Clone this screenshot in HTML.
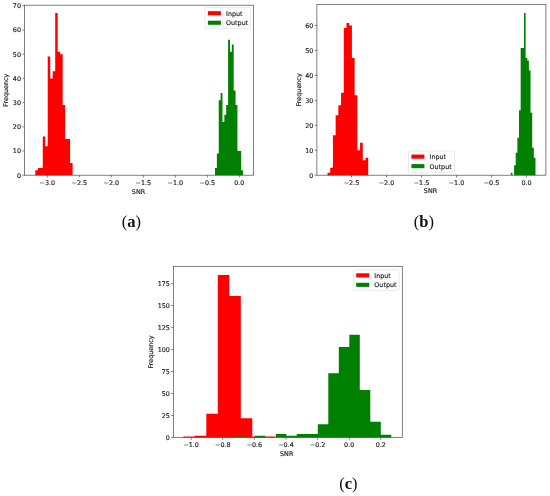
<!DOCTYPE html>
<html><head><meta charset="utf-8"><title>SNR histograms</title>
<style>
html,body{margin:0;padding:0;background:#fff;}
body{width:550px;height:496px;overflow:hidden;position:relative;}
svg{position:absolute;left:0;top:0;display:block;filter:blur(0.3px);}
.t{font-family:"DejaVu Sans","Liberation Sans",sans-serif;font-size:6.4px;fill:#1a1a1a;stroke:#1a1a1a;stroke-width:0.15px;}
.cap{position:absolute;font-family:"Liberation Serif","DejaVu Serif",serif;font-size:16.5px;color:#111;line-height:1;white-space:nowrap;transform:translateX(-50%);}
.cap b{font-weight:bold;}
</style></head><body>
<svg width="550" height="496" viewBox="0 0 550 496">
<rect width="550" height="496" fill="#fff"/>
<g id="pa">
<path d="M35.3 175.2V170.36H37.79V167.94H40.27V167.94H42.76V136.48H45.25V146.16H47.73V56.62H50.22V78.4H52.71V71.14H55.2V13.06H57.68V51.78H60.17V54.2H62.66V105.02H65.14V138.9H67.63V138.9H70.12V163.1H72.6V175.2Z" fill="#ff0000"/>
<path d="M215 175.2V167.94H216.87V153.42H218.74V100.18H220.61V92.92H222.48V121.96H224.35V114.7H226.22V105.02H228.09V39.68H229.96V51.78H231.83V44.52H233.7V90.5H235.57V105.02H237.44V151H239.31V151H241.18V170.36H243.05V175.2Z" fill="#008000"/>
<rect x="24.6" y="5.2" width="228.8" height="170" fill="none" stroke="#4a4a4a" stroke-width="0.7"/>
<line x1="47.3" y1="175.2" x2="47.3" y2="177.5" stroke="#4a4a4a" stroke-width="0.7"/>
<text x="47.3" y="184.8" text-anchor="middle" class="t">−3.0</text>
<line x1="79.3" y1="175.2" x2="79.3" y2="177.5" stroke="#4a4a4a" stroke-width="0.7"/>
<text x="79.3" y="184.8" text-anchor="middle" class="t">−2.5</text>
<line x1="111.3" y1="175.2" x2="111.3" y2="177.5" stroke="#4a4a4a" stroke-width="0.7"/>
<text x="111.3" y="184.8" text-anchor="middle" class="t">−2.0</text>
<line x1="143.3" y1="175.2" x2="143.3" y2="177.5" stroke="#4a4a4a" stroke-width="0.7"/>
<text x="143.3" y="184.8" text-anchor="middle" class="t">−1.5</text>
<line x1="175.3" y1="175.2" x2="175.3" y2="177.5" stroke="#4a4a4a" stroke-width="0.7"/>
<text x="175.3" y="184.8" text-anchor="middle" class="t">−1.0</text>
<line x1="207.3" y1="175.2" x2="207.3" y2="177.5" stroke="#4a4a4a" stroke-width="0.7"/>
<text x="207.3" y="184.8" text-anchor="middle" class="t">−0.5</text>
<line x1="239.3" y1="175.2" x2="239.3" y2="177.5" stroke="#4a4a4a" stroke-width="0.7"/>
<text x="239.3" y="184.8" text-anchor="middle" class="t">0.0</text>
<line x1="22.3" y1="175.2" x2="24.6" y2="175.2" stroke="#4a4a4a" stroke-width="0.7"/>
<text x="21" y="177.55" text-anchor="end" class="t">0</text>
<line x1="22.3" y1="151" x2="24.6" y2="151" stroke="#4a4a4a" stroke-width="0.7"/>
<text x="21" y="153.35" text-anchor="end" class="t">10</text>
<line x1="22.3" y1="126.8" x2="24.6" y2="126.8" stroke="#4a4a4a" stroke-width="0.7"/>
<text x="21" y="129.15" text-anchor="end" class="t">20</text>
<line x1="22.3" y1="102.6" x2="24.6" y2="102.6" stroke="#4a4a4a" stroke-width="0.7"/>
<text x="21" y="104.95" text-anchor="end" class="t">30</text>
<line x1="22.3" y1="78.4" x2="24.6" y2="78.4" stroke="#4a4a4a" stroke-width="0.7"/>
<text x="21" y="80.75" text-anchor="end" class="t">40</text>
<line x1="22.3" y1="54.2" x2="24.6" y2="54.2" stroke="#4a4a4a" stroke-width="0.7"/>
<text x="21" y="56.55" text-anchor="end" class="t">50</text>
<line x1="22.3" y1="30" x2="24.6" y2="30" stroke="#4a4a4a" stroke-width="0.7"/>
<text x="21" y="32.35" text-anchor="end" class="t">60</text>
<line x1="22.3" y1="5.8" x2="24.6" y2="5.8" stroke="#4a4a4a" stroke-width="0.7"/>
<text x="21" y="8.15" text-anchor="end" class="t">70</text>
<text x="138.5" y="193.9" text-anchor="middle" class="t">SNR</text>
<text transform="translate(8.3,90.2) rotate(-90)" text-anchor="middle" class="t">Frequency</text>
<rect x="205" y="7.7" width="45.6" height="20.9" rx="1" fill="#fff" fill-opacity="0.8" stroke="#d4d4d4" stroke-width="0.5"/>
<rect x="207.9" y="11.2" width="13" height="4.1" fill="#ff0000"/>
<rect x="207.9" y="20.7" width="13" height="4.1" fill="#008000"/>
<text x="226" y="15.6" class="t">Input</text>
<text x="226" y="25.1" class="t">Output</text>
</g>
<g id="pb">
<path d="M327.5 175.2V172.7H330.21V167.71H332.93V135.28H335.64V115.32H338.35V105.34H341.06V92.86H343.78V27.99H346.49V23H349.2V25.5H351.92V57.93H354.63V95.36H357.34V150.25H360.06V142.76H362.77V160.23H365.48V157.73H368.19V175.2Z" fill="#ff0000"/>
<path d="M510.8 175.2V172.7H512.45V175.2ZM514.09 175.2V165.22H515.74V152.74H517.38V137.77H519.02V110.33H520.67V47.95H522.32V47.95H523.96V13.02H525.61V57.93H527.25V60.43H528.89V70.41H530.54V112.82H532.19V147.75H533.83V157.73H535.48V175.2Z" fill="#008000"/>
<rect x="316.9" y="4.5" width="229" height="170.7" fill="none" stroke="#4a4a4a" stroke-width="0.7"/>
<line x1="351.5" y1="175.2" x2="351.5" y2="177.5" stroke="#4a4a4a" stroke-width="0.7"/>
<text x="351.5" y="184.8" text-anchor="middle" class="t">−2.5</text>
<line x1="386.5" y1="175.2" x2="386.5" y2="177.5" stroke="#4a4a4a" stroke-width="0.7"/>
<text x="386.5" y="184.8" text-anchor="middle" class="t">−2.0</text>
<line x1="421.5" y1="175.2" x2="421.5" y2="177.5" stroke="#4a4a4a" stroke-width="0.7"/>
<text x="421.5" y="184.8" text-anchor="middle" class="t">−1.5</text>
<line x1="456.5" y1="175.2" x2="456.5" y2="177.5" stroke="#4a4a4a" stroke-width="0.7"/>
<text x="456.5" y="184.8" text-anchor="middle" class="t">−1.0</text>
<line x1="491.5" y1="175.2" x2="491.5" y2="177.5" stroke="#4a4a4a" stroke-width="0.7"/>
<text x="491.5" y="184.8" text-anchor="middle" class="t">−0.5</text>
<line x1="526.5" y1="175.2" x2="526.5" y2="177.5" stroke="#4a4a4a" stroke-width="0.7"/>
<text x="526.5" y="184.8" text-anchor="middle" class="t">0.0</text>
<line x1="314.6" y1="175.2" x2="316.9" y2="175.2" stroke="#4a4a4a" stroke-width="0.7"/>
<text x="313.3" y="177.55" text-anchor="end" class="t">0</text>
<line x1="314.6" y1="150.25" x2="316.9" y2="150.25" stroke="#4a4a4a" stroke-width="0.7"/>
<text x="313.3" y="152.6" text-anchor="end" class="t">10</text>
<line x1="314.6" y1="125.3" x2="316.9" y2="125.3" stroke="#4a4a4a" stroke-width="0.7"/>
<text x="313.3" y="127.65" text-anchor="end" class="t">20</text>
<line x1="314.6" y1="100.35" x2="316.9" y2="100.35" stroke="#4a4a4a" stroke-width="0.7"/>
<text x="313.3" y="102.7" text-anchor="end" class="t">30</text>
<line x1="314.6" y1="75.4" x2="316.9" y2="75.4" stroke="#4a4a4a" stroke-width="0.7"/>
<text x="313.3" y="77.75" text-anchor="end" class="t">40</text>
<line x1="314.6" y1="50.45" x2="316.9" y2="50.45" stroke="#4a4a4a" stroke-width="0.7"/>
<text x="313.3" y="52.8" text-anchor="end" class="t">50</text>
<line x1="314.6" y1="25.5" x2="316.9" y2="25.5" stroke="#4a4a4a" stroke-width="0.7"/>
<text x="313.3" y="27.85" text-anchor="end" class="t">60</text>
<text x="430.5" y="193.4" text-anchor="middle" class="t">SNR</text>
<text transform="translate(300.8,89.85) rotate(-90)" text-anchor="middle" class="t">Frequency</text>
<rect x="408.5" y="151.1" width="46" height="21.2" rx="1" fill="#fff" fill-opacity="0.8" stroke="#d4d4d4" stroke-width="0.5"/>
<rect x="411.4" y="154.6" width="13" height="4.1" fill="#ff0000"/>
<rect x="411.4" y="164.1" width="13" height="4.1" fill="#008000"/>
<text x="429.5" y="159" class="t">Input</text>
<text x="429.5" y="168.5" class="t">Output</text>
</g>
<g id="pc">
<path d="M183.3 437.5V436.62H194.8V435.74H206.3V413.77H217.8V274.88H229.3V295.98H240.8V418.16H252.3V436.62H263.8V436.62H275.3V437.5Z" fill="#ff0000"/>
<path d="M233.8 437.5V436.62H244.3V437.5ZM254.8 437.5V435.74H265.3V437.5ZM275.8 437.5V433.98H286.3V435.74H296.8V433.98H307.3V433.98H317.8V424.31H328.3V373.33H338.8V346.96H349.3V334.66H359.8V390.03H370.3V421.68H380.8V434.86H391.3V437.5Z" fill="#008000"/>
<rect x="173.5" y="266.3" width="228.8" height="171.2" fill="none" stroke="#4a4a4a" stroke-width="0.7"/>
<line x1="191.2" y1="437.5" x2="191.2" y2="439.8" stroke="#4a4a4a" stroke-width="0.7"/>
<text x="191.2" y="447" text-anchor="middle" class="t">−1.0</text>
<line x1="222.8" y1="437.5" x2="222.8" y2="439.8" stroke="#4a4a4a" stroke-width="0.7"/>
<text x="222.8" y="447" text-anchor="middle" class="t">−0.8</text>
<line x1="254.4" y1="437.5" x2="254.4" y2="439.8" stroke="#4a4a4a" stroke-width="0.7"/>
<text x="254.4" y="447" text-anchor="middle" class="t">−0.6</text>
<line x1="286" y1="437.5" x2="286" y2="439.8" stroke="#4a4a4a" stroke-width="0.7"/>
<text x="286" y="447" text-anchor="middle" class="t">−0.4</text>
<line x1="317.6" y1="437.5" x2="317.6" y2="439.8" stroke="#4a4a4a" stroke-width="0.7"/>
<text x="317.6" y="447" text-anchor="middle" class="t">−0.2</text>
<line x1="349.2" y1="437.5" x2="349.2" y2="439.8" stroke="#4a4a4a" stroke-width="0.7"/>
<text x="349.2" y="447" text-anchor="middle" class="t">0.0</text>
<line x1="380.8" y1="437.5" x2="380.8" y2="439.8" stroke="#4a4a4a" stroke-width="0.7"/>
<text x="380.8" y="447" text-anchor="middle" class="t">0.2</text>
<line x1="171.2" y1="437.5" x2="173.5" y2="437.5" stroke="#4a4a4a" stroke-width="0.7"/>
<text x="169.9" y="439.85" text-anchor="end" class="t">0</text>
<line x1="171.2" y1="415.52" x2="173.5" y2="415.52" stroke="#4a4a4a" stroke-width="0.7"/>
<text x="169.9" y="417.88" text-anchor="end" class="t">25</text>
<line x1="171.2" y1="393.55" x2="173.5" y2="393.55" stroke="#4a4a4a" stroke-width="0.7"/>
<text x="169.9" y="395.9" text-anchor="end" class="t">50</text>
<line x1="171.2" y1="371.57" x2="173.5" y2="371.57" stroke="#4a4a4a" stroke-width="0.7"/>
<text x="169.9" y="373.93" text-anchor="end" class="t">75</text>
<line x1="171.2" y1="349.6" x2="173.5" y2="349.6" stroke="#4a4a4a" stroke-width="0.7"/>
<text x="169.9" y="351.95" text-anchor="end" class="t">100</text>
<line x1="171.2" y1="327.62" x2="173.5" y2="327.62" stroke="#4a4a4a" stroke-width="0.7"/>
<text x="169.9" y="329.98" text-anchor="end" class="t">125</text>
<line x1="171.2" y1="305.65" x2="173.5" y2="305.65" stroke="#4a4a4a" stroke-width="0.7"/>
<text x="169.9" y="308" text-anchor="end" class="t">150</text>
<line x1="171.2" y1="283.68" x2="173.5" y2="283.68" stroke="#4a4a4a" stroke-width="0.7"/>
<text x="169.9" y="286.03" text-anchor="end" class="t">175</text>
<text x="286.7" y="455.5" text-anchor="middle" class="t">SNR</text>
<text transform="translate(152.8,351.9) rotate(-90)" text-anchor="middle" class="t">Frequency</text>
<rect x="353.3" y="269.8" width="45.9" height="20.5" rx="1" fill="#fff" fill-opacity="0.8" stroke="#d4d4d4" stroke-width="0.5"/>
<rect x="356.2" y="273.3" width="13" height="4.1" fill="#ff0000"/>
<rect x="356.2" y="282.8" width="13" height="4.1" fill="#008000"/>
<text x="374.3" y="277.7" class="t">Input</text>
<text x="374.3" y="287.2" class="t">Output</text>
</g>
</svg>
<div class="cap" style="left:131.3px;top:214.4px;">(<b>a</b>)</div>
<div class="cap" style="left:423.8px;top:214.4px;">(<b>b</b>)</div>
<div class="cap" style="left:348.4px;top:476px;">(<b>c</b>)</div>
</body></html>
